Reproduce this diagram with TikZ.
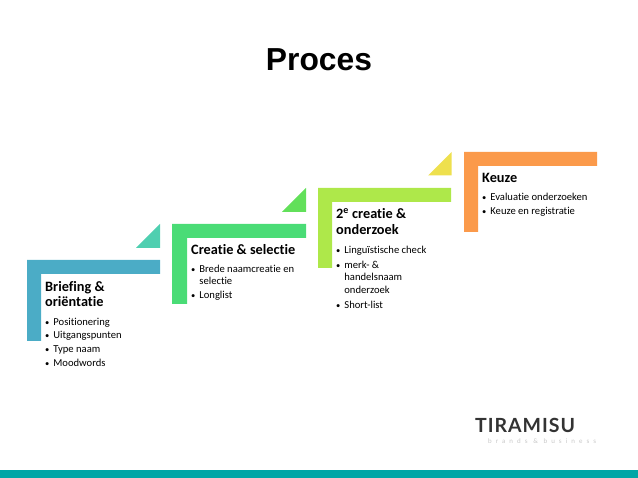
\documentclass[tikz,border=0pt]{standalone}
\usepackage{fontspec}
\setmainfont[Ligatures=CommonOff]{Carlito}
\newfontfamily\titlefont{Liberation Sans}
\newfontfamily\logofont[LetterSpace=5]{Lato}
\newfontfamily\tagfont[LetterSpace=62]{Lato}
\usetikzlibrary{positioning}
\definecolor{stepblue}{HTML}{4BACC6}
\definecolor{stepgreen}{HTML}{4ADC76}
\definecolor{steplime}{HTML}{AEE84A}
\definecolor{steporange}{HTML}{FB9A4B}
\definecolor{cornerteal}{HTML}{4FCFB0}
\definecolor{cornergreen}{HTML}{62E05A}
\definecolor{corneryellow}{HTML}{EEE04E}
\definecolor{footerteal}{HTML}{00A6A6}
\newcommand{\bul}{\makebox[8.2pt][l]{\fontsize{8.5}{8.5}\selectfont\textbullet}}
\newcommand{\bulgap}{\hspace{8.2pt}}

\begin{document}
\begin{tikzpicture}[%
    x=1pt,
    y=-1pt,
    heading/.style={inner sep=0pt,anchor=north west,align=left,font=\bfseries\fontsize{14.3}{15.6}\selectfont},
    bullets/.style={inner sep=0pt,anchor=north west,align=left,font=\fontsize{10.6}{13.8}\selectfont},
  ]
    \useasboundingbox (0,0) rectangle (638,478);

    \node[font=\titlefont\bfseries\fontsize{31.8}{34}\selectfont] (title) at (319,60) {Proces};

    % steps
    \fill[stepblue] (27,260) -| (160,274) -| (41,341) -| cycle;
    \fill[stepgreen] (172,224) -| (306,238) -| (187,304) -| cycle;
    \fill[steplime] (318,188) -| (451,202) -| (332,268) -| cycle;
    \fill[steporange] (464,152) -| (597,166) -| (478,232) -| cycle;

    % corners
    \fill[cornerteal] (136,248) -| (160,224) -- cycle;
    \fill[cornergreen] (282,212) -| (306,188) -- cycle;
    \fill[corneryellow] (428,175.5) -| (451.5,152) -- cycle;

    \node[heading] (briefing) at (45,281) {Briefing \&\\ori\"entatie};
    \node[bullets,below=10.5pt of briefing.south west,anchor=north west] (briefinglist)
      {\bul Positionering\\\bul Uitgangspunten\\\bul Type naam\\\bul Moodwords};

    \node[heading] (creatie) at (191,244.5) {Creatie \& selectie};
    \node[bullets,below=10pt of creatie.south west,anchor=north west] (creatielist)
      {\bul Brede naamcreatie en\\[-1.5pt]\bulgap selectie\\\bul Longlist};

    \node[heading] (tweede) at (336,208.5) {2\textsuperscript{e} creatie \&\\onderzoek};
    \node[bullets,below=11pt of tweede.south west,anchor=north west] (tweedelist)
      {\bul Lingu\"istische check\\[1pt]\bul merk- \&\\[-1.2pt]\bulgap handelsnaam\\[-1.2pt]\bulgap onderzoek\\[1pt]\bul Short-list};

    \node[heading] (keuze) at (482,173) {Keuze};
    \node[bullets,below=10.5pt of keuze.south west,anchor=north west] (keuzelist)
      {\bul Evaluatie onderzoeken\\\bul Keuze en registratie};

    % logo
    \node[inner sep=0pt,anchor=west,text=black!80,font=\logofont\bfseries\fontsize{19.5}{20}\selectfont] (logo) at (475,425.5) {TIRAMISU};
    \node[inner sep=0pt,anchor=west,text=black!22,font=\tagfont\fontsize{6.5}{7}\selectfont] (tagline) at (488,441) {brands \& business};

    \fill[footerteal] (0,470) rectangle (638,478);
  \end{tikzpicture}
\end{document}
